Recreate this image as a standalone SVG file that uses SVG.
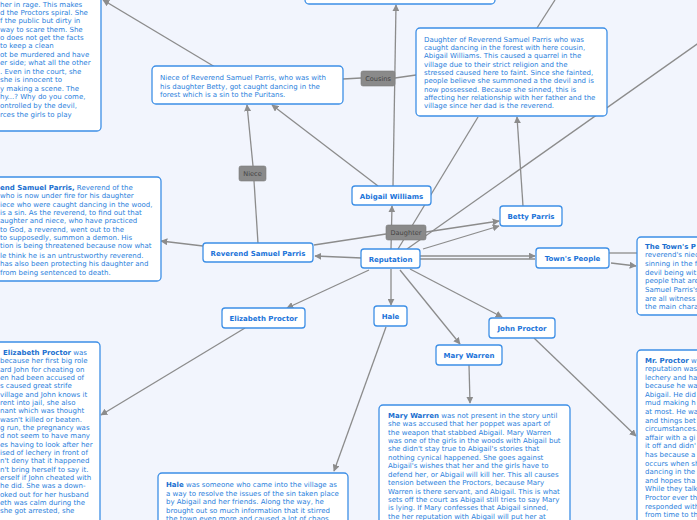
<svg xmlns="http://www.w3.org/2000/svg" width="697" height="520" viewBox="0 0 697 520">
<style>
.bg{fill:#f2f5fd}
.box{fill:#fff;stroke:#3d8fe6;stroke-width:1.3}
.nl{font-family:"DejaVu Sans",sans-serif;font-size:7px;font-weight:bold;fill:#1a73d9;text-anchor:middle}
.t{font-family:"DejaVu Sans",sans-serif;font-size:7px;fill:#2a80dc}
.t .b{font-weight:bold;fill:#1a6fd0}
.lab{fill:#8a8a8a;stroke:#7a7a7a;stroke-width:0.6}
.lt{font-family:"DejaVu Sans",sans-serif;font-size:6.6px;fill:#444;text-anchor:middle}
.c{stroke:#8c8c8c;stroke-width:1.3;fill:none}
.a{marker-end:url(#ar)}
</style>
<defs><marker id="ar" viewBox="0 0 10 10" refX="9" refY="5" markerWidth="7" markerHeight="7" markerUnits="userSpaceOnUse" orient="auto"><path d="M0,0 L10,5 L0,10 z" fill="#8c8c8c"/></marker></defs>
<rect class="bg" width="697" height="520"/>
<g id="connectors">
<path class="c a" d="M391,249 L392,206"/>
<path class="c a" d="M362,258 L315,256"/>
<path class="c a" d="M420,256 L535,256"/>
<path class="c" d="M420,259 L535,259"/>
<path class="c a" d="M423,249 L499,226"/>
<path class="c a" d="M391,269 L391,305"/>
<path class="c a" d="M369,270 L287,308"/>
<path class="c a" d="M400,270 L460,344"/>
<path class="c a" d="M410,269 L502,317"/>
<path class="c" d="M314,245 L386,234"/>
<path class="c a" d="M426,232 L499,221"/>
<path class="c" d="M258,243 L254,181"/>
<path class="c a" d="M253,166 L247,105"/>
<path class="c a" d="M378,186 L272,105"/>
<path class="c a" d="M393,186 L396,5"/>
<path class="c" d="M343,79 L361,78"/>
<path class="c" d="M395,78 L416,75"/>
<path class="c" d="M537,28 L555,0"/>
<path class="c a" d="M523,206 L517,117"/>
<path class="c" d="M398,249 L478,117"/>
<path class="c" d="M407,249 L700,42"/>
<path class="c a" d="M203,246 L161,241"/>
<path class="c" d="M609,253 L637,253"/>
<path class="c a" d="M611,263 L636,266"/>
<path class="c a" d="M245,328 L101,415"/>
<path class="c a" d="M386,327 L334,471"/>
<path class="c a" d="M469,365 L470,403"/>
<path class="c a" d="M534,338 L636,436"/>
<path class="c a" d="M215,67 L103,0"/>
</g>
<g id="labels">
<rect class="lab" x="239" y="166" width="27" height="15" rx="2"/><text class="lt" x="252.5" y="176">Niece</text>
<rect class="lab" x="386" y="225" width="40" height="15" rx="2"/><text class="lt" x="406" y="235">Daughter</text>
<rect class="lab" x="361" y="71" width="34" height="15" rx="2"/><text class="lt" x="378" y="81">Cousins</text>
</g>
<g id="n-abigail"><rect class="box" x="352" y="186" width="79" height="19" rx="3"/><text class="nl" x="391.5" y="198.5">Abigail Williams</text></g>
<g id="n-betty"><rect class="box" x="500" y="206" width="62" height="20" rx="3"/><text class="nl" x="531" y="218.5">Betty Parris</text></g>
<g id="n-rev"><rect class="box" x="203" y="243" width="110" height="19" rx="3"/><text class="nl" x="258" y="255.5">Reverend Samuel Parris</text></g>
<g id="n-rep"><rect class="box" x="361" y="249" width="59" height="19" rx="3"/><text class="nl" x="390.5" y="261.5">Reputation</text></g>
<g id="n-town"><rect class="box" x="536" y="248" width="73" height="20" rx="3"/><text class="nl" x="572.5" y="260.5">Town's People</text></g>
<g id="n-eliz"><rect class="box" x="222" y="308" width="83" height="20" rx="3"/><text class="nl" x="263.5" y="320.5">Elizabeth Proctor</text></g>
<g id="n-hale"><rect class="box" x="374" y="306" width="33" height="20" rx="3"/><text class="nl" x="390.5" y="318.5">Hale</text></g>
<g id="n-mary"><rect class="box" x="436" y="345" width="66" height="20" rx="3"/><text class="nl" x="469" y="357.5">Mary Warren</text></g>
<g id="n-john"><rect class="box" x="489" y="318" width="66" height="20" rx="3"/><text class="nl" x="522" y="330.5">John Proctor</text></g>
<g id="d-top"><rect class="box" x="305" y="-10" width="190" height="14" rx="4"/></g>
<g id="d-topleft"><rect class="box" x="-5" y="-10" width="106" height="141" rx="4"/>
<text class="t">
<tspan x="0" y="6.5">her in rage. This makes</tspan><tspan x="0" y="14.8">d the Proctors spiral. She</tspan><tspan x="0" y="23.2">f the public but dirty in</tspan><tspan x="0" y="31.5">way to scare them. She</tspan><tspan x="0" y="39.8">o does not get the facts</tspan><tspan x="0" y="48.2">to keep a clean</tspan><tspan x="0" y="56.5">ot be murdered and have</tspan><tspan x="0" y="64.8">er side; what all the other</tspan><tspan x="0" y="73.5">. Even in the court, she</tspan><tspan x="0" y="81.8">she is innocent to</tspan><tspan x="0" y="90.5">y making a scene. The</tspan><tspan x="0" y="99.2">hy...? Why do you come,</tspan><tspan x="0" y="107.8">ontrolled by the devil,</tspan><tspan x="0" y="116.5">rces the girls to play</tspan>
</text></g>
<g id="d-niece"><rect class="box" x="152" y="66" width="191" height="38" rx="4"/>
<text class="t"><tspan x="160" y="80">Niece of Reverend Samuel Parris, who was with</tspan><tspan x="160" y="88.5">his daughter Betty, got caught dancing in the</tspan><tspan x="160" y="97">forest which is a sin to the Puritans.</tspan></text></g>
<g id="d-betty"><rect class="box" x="416" y="28" width="191" height="88" rx="4"/>
<text class="t"><tspan x="424" y="41.5">Daughter of Reverend Samuel Parris who was</tspan><tspan x="424" y="49.8">caught dancing in the forest with here cousin,</tspan><tspan x="424" y="58.2">Abigail Williams. This caused a quarrel in the</tspan><tspan x="424" y="66.5">village due to their strict religion and the</tspan><tspan x="424" y="74.8">stressed caused here to faint. Since she fainted,</tspan><tspan x="424" y="83.2">people believe she summoned a the devil and is</tspan><tspan x="424" y="91.5">now possessed. Because she sinned, this is</tspan><tspan x="424" y="99.8">affecting her relationship with her father and the</tspan><tspan x="424" y="108.2">village since her dad is the reverend.</tspan></text></g>
<g id="d-rev"><rect class="box" x="-5" y="177" width="166" height="104" rx="4"/>
<text class="t"><tspan x="0" y="190.2"><tspan class="b">end Samuel Parris,</tspan> Reverend of the</tspan><tspan x="0" y="198.2">who is now under fire for his daughter</tspan><tspan x="0" y="206.5">iece who were caught dancing in the wood,</tspan><tspan x="0" y="214.8">is a sin. As the reverend, to find out that</tspan><tspan x="0" y="223.2">aughter and niece, who have practiced</tspan><tspan x="0" y="231.5">to God, a reverend, went out to the</tspan><tspan x="0" y="239.8">to supposedly, summon a demon. His</tspan><tspan x="0" y="248.2">tion is being threatened because now what</tspan><tspan x="0" y="257.5">le think he is an untrustworthy reverend.</tspan><tspan x="0" y="265.8">has also been protecting his daughter and</tspan><tspan x="0" y="274.8">from being sentenced to death.</tspan></text></g>
<g id="d-town"><rect class="box" x="637" y="237" width="70" height="78" rx="4"/>
<text class="t"><tspan x="645" y="248.5" class="b">The Town's P</tspan><tspan x="645" y="257.2">reverend's niec</tspan><tspan x="645" y="265.8">sinning in the f</tspan><tspan x="645" y="274.5">devil being wit</tspan><tspan x="645" y="283.2">people that are</tspan><tspan x="645" y="291.8">Samuel Parris's</tspan><tspan x="645" y="300.5">are all witness</tspan><tspan x="645" y="309.2">the main chara</tspan></text></g>
<g id="d-eliz"><rect class="box" x="-5" y="342" width="105" height="190" rx="4"/>
<text class="t"><tspan x="3" y="354.8"><tspan class="b">Elizabeth Proctor</tspan> was</tspan><tspan x="0" y="363.2">because her first big role</tspan><tspan x="0" y="371.5">ard John for cheating on</tspan><tspan x="0" y="379.8">en had been accused of</tspan><tspan x="0" y="388.2">s caused great strife</tspan><tspan x="0" y="396.5">village and John knows it</tspan><tspan x="0" y="404.8">rent into jail, she also</tspan><tspan x="0" y="413.2">nant which was thought</tspan><tspan x="0" y="421.5">wasn't killed or beaten.</tspan><tspan x="0" y="429.8">g run, the pregnancy was</tspan><tspan x="0" y="438.2">d not seem to have many</tspan><tspan x="0" y="446.5">es having to look after her</tspan><tspan x="0" y="454.8">ised of lechery in front of</tspan><tspan x="0" y="463.2">n't deny that it happened</tspan><tspan x="0" y="471.5">n't bring herself to say it.</tspan><tspan x="0" y="479.8">erself if John cheated with</tspan><tspan x="0" y="488.2">he did. She was a down-</tspan><tspan x="0" y="496.5">oked out for her husband</tspan><tspan x="0" y="504.8">eth was calm during the</tspan><tspan x="0" y="513.2">she got arrested, she</tspan></text></g>
<g id="d-hale"><rect class="box" x="158" y="473" width="190" height="60" rx="4"/>
<text class="t"><tspan x="166" y="486.5"><tspan class="b">Hale</tspan> was someone who came into the village as</tspan><tspan x="166" y="495.5">a way to resolve the issues of the sin taken place</tspan><tspan x="166" y="504">by Abigail and her friends. Along the way, he</tspan><tspan x="166" y="512.5">brought out so much information that it stirred</tspan><tspan x="166" y="521">the town even more and caused a lot of chaos.</tspan></text></g>
<g id="d-mary"><rect class="box" x="379" y="405" width="191" height="130" rx="4"/>
<text class="t"><tspan x="388" y="417.5"><tspan class="b">Mary Warren</tspan> was not present in the story until</tspan><tspan x="388" y="425.8">she was accused that her poppet was apart of</tspan><tspan x="388" y="434.5">the weapon that stabbed Abigail. Mary Warren</tspan><tspan x="388" y="442.8">was one of the girls in the woods with Abigail but</tspan><tspan x="388" y="451.2">she didn't stay true to Abigail's stories that</tspan><tspan x="388" y="459.8">nothing cynical happened. She goes against</tspan><tspan x="388" y="468.2">Abigail's wishes that her and the girls have to</tspan><tspan x="388" y="476.5">defend her, or Abigail will kill her. This all causes</tspan><tspan x="388" y="484.8">tension between the Proctors, because Mary</tspan><tspan x="388" y="493.5">Warren is there servant, and Abigail. This is what</tspan><tspan x="388" y="501.8">sets off the court as Abigail still tries to say Mary</tspan><tspan x="388" y="510.2">is lying. If Mary confesses that Abigail sinned,</tspan><tspan x="388" y="518.5">the her reputation with Abigail will put her at</tspan></text></g>
<g id="d-john"><rect class="box" x="637" y="350" width="70" height="180" rx="4"/>
<text class="t"><tspan x="645" y="362.5"><tspan class="b">Mr. Proctor</tspan> w</tspan><tspan x="645" y="371">reputation was</tspan><tspan x="645" y="379.6">lechery and ha</tspan><tspan x="645" y="388.2">because he wa</tspan><tspan x="645" y="396.8">Abigail. He did</tspan><tspan x="645" y="405.4">mud making h</tspan><tspan x="645" y="414">at most. He wa</tspan><tspan x="645" y="422.6">and things bet</tspan><tspan x="645" y="431.2">circumstances.</tspan><tspan x="645" y="439.8">affair with a gi</tspan><tspan x="645" y="448.4">it off and didn'</tspan><tspan x="645" y="457">has because a</tspan><tspan x="645" y="465.6">occurs when sh</tspan><tspan x="645" y="474.2">dancing in the</tspan><tspan x="645" y="482.8">and hopes tha</tspan><tspan x="645" y="491.4">While they talk</tspan><tspan x="645" y="500">Proctor ever th</tspan><tspan x="645" y="508.6">responded with</tspan><tspan x="645" y="517.2">from time to th</tspan></text></g>
</svg>
